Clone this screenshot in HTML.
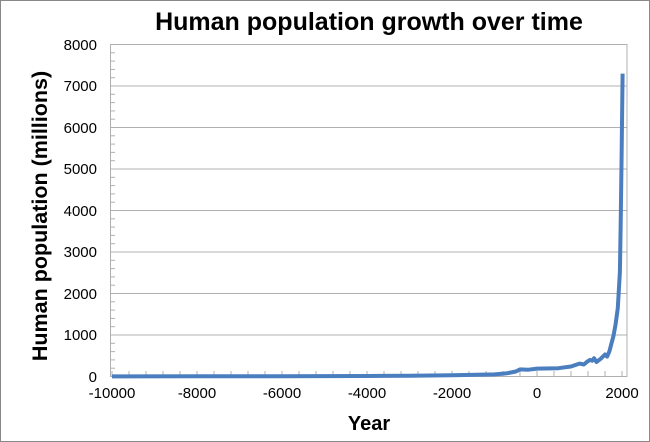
<!DOCTYPE html>
<html><head><style>
body{margin:0;background:#fff;}
svg{display:block;font-family:"Liberation Sans",sans-serif;}
</style></head><body>
<svg width="650" height="442" viewBox="0 0 650 442">
<rect x="0.5" y="0.5" width="649" height="441" fill="#fff" stroke="#888"/>
<text x="369" y="30" font-size="25" font-weight="bold" text-anchor="middle">Human population growth over time</text>
<g stroke="#b0b0b0" stroke-width="1">
<line x1="110" y1="44.5" x2="627" y2="44.5"/>
<line x1="110" y1="86" x2="627" y2="86"/>
<line x1="110" y1="127.5" x2="627" y2="127.5"/>
<line x1="110" y1="169" x2="627" y2="169"/>
<line x1="110" y1="210.5" x2="627" y2="210.5"/>
<line x1="110" y1="252" x2="627" y2="252"/>
<line x1="110" y1="293.5" x2="627" y2="293.5"/>
<line x1="110" y1="335" x2="627" y2="335"/>
<line x1="110" y1="376.5" x2="627" y2="376.5"/>
<line x1="110.5" y1="44" x2="110.5" y2="377"/>
<line x1="627" y1="44" x2="627" y2="377"/>
</g>
<g id="yt" stroke="#b0b0b0"></g>
<g id="xt" stroke="#b0b0b0"></g>
<g font-size="15" text-anchor="end">
<text x="97" y="50">8000</text><text x="97" y="91">7000</text><text x="97" y="133">6000</text>
<text x="97" y="174">5000</text><text x="97" y="216">4000</text><text x="97" y="257">3000</text>
<text x="97" y="299">2000</text><text x="97" y="340">1000</text><text x="97" y="382">0</text>
</g>
<g font-size="15" text-anchor="middle">
<text x="112" y="398">-10000</text><text x="197" y="398">-8000</text><text x="282" y="398">-6000</text>
<text x="367" y="398">-4000</text><text x="452" y="398">-2000</text><text x="537" y="398">0</text>
<text x="622" y="398">2000</text>
</g>
<text x="369" y="430" font-size="20" font-weight="bold" text-anchor="middle">Year</text>
<text transform="translate(47,216) rotate(-90)" font-size="21.5" font-weight="bold" text-anchor="middle">Human population (millions)</text>
<polyline id="p" fill="none" stroke="#4a7ebf" stroke-width="4" stroke-linejoin="round"/>
</svg>
<script>
var X=function(v){return 537+v*85/2000},Y=function(v){return 376.5-v*0.0415};
var d=[[-10000,2],[-8000,5],[-6000,8],[-4000,12],[-3000,20],[-2000,30],[-1000,50],[-700,80],[-500,120],[-400,170],[-200,165],[0,190],[500,200],[800,240],[1000,310],[1100,290],[1200,370],[1250,400],[1300,380],[1340,440],[1400,350],[1500,430],[1600,530],[1650,480],[1700,600],[1750,790],[1800,980],[1850,1260],[1900,1650],[1950,2520],[1970,3700],[1990,5300],[2000,6100],[2010,6900],[2015,7300]];
document.getElementById('p').setAttribute('points',d.map(function(p){return X(p[0]).toFixed(1)+','+Y(p[1]).toFixed(1)}).join(' '));
var s='';
for(var v=0;v<=8000;v+=200){var y=Y(v);s+='<line x1="110" x2="115" y1="'+y+'" y2="'+y+'"/>';}
document.getElementById('yt').innerHTML=s;s='';
for(var v=-10000;v<=2100;v+=400){var x=X(v);s+='<line x1="'+x+'" x2="'+x+'" y1="371" y2="377"/>';}
document.getElementById('xt').innerHTML=s;
</script>
</body></html>
